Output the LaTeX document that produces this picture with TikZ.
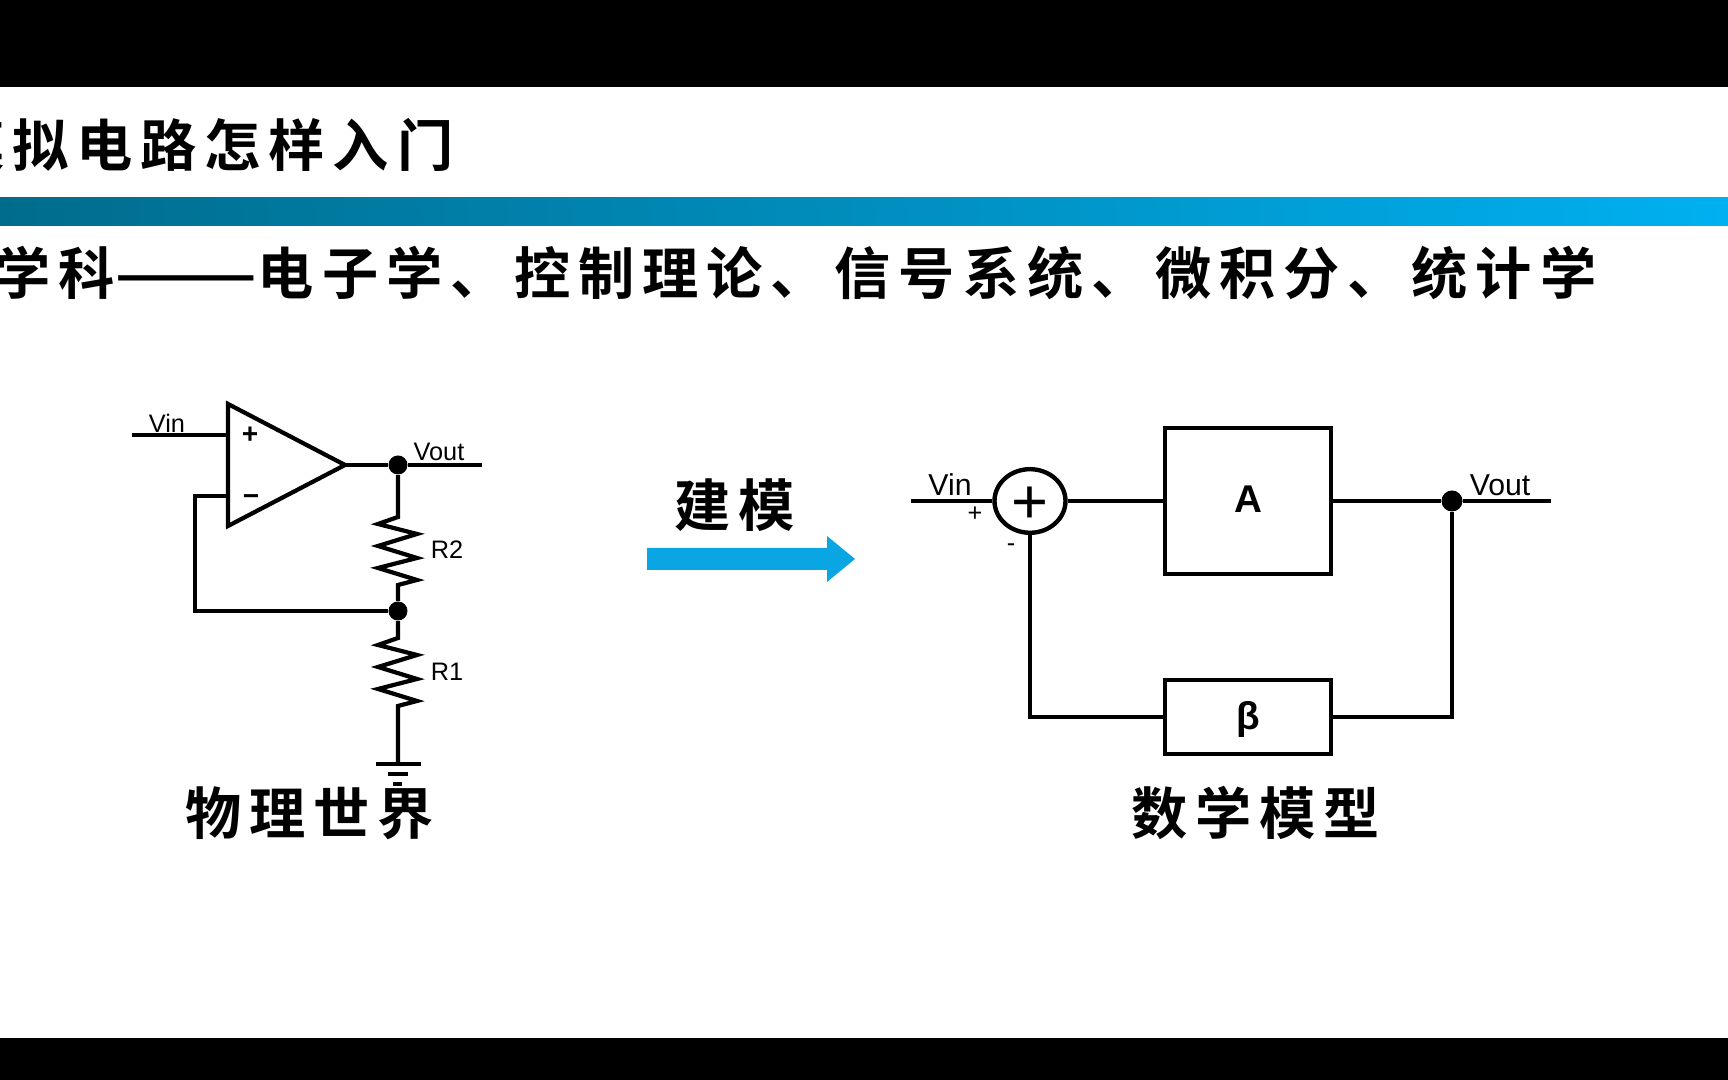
\documentclass[tikz,border=0pt]{standalone}
\usepackage{fontspec}
\usepackage{graphicx}
\setsansfont{Liberation Sans}
\newfontfamily\cjkfont[LetterSpace=14,BoldFont={Noto Sans CJK SC Bold}]{Noto Sans CJK SC}
\usepackage{tikz}
\usetikzlibrary{shapes, shapes.geometric, positioning, calc}
\definecolor{banddark}{RGB}{0,108,140}
\definecolor{bandlight}{RGB}{0,176,240}
\definecolor{arrowblue}{RGB}{10,166,228}
\tikzstyle{wire} = [line width=1.2pt, black]
\tikzstyle{modelwire} = [line width=1.25pt, black]
\tikzstyle{heading} = [font=\cjkfont\bfseries\fontsize{16pt}{16pt}\selectfont, inner sep=0pt]
\tikzstyle{smalltext} = [font=\sffamily\fontsize{7.2pt}{8pt}\selectfont, inner sep=0pt]
\tikzstyle{signtext} = [font=\sffamily\bfseries\fontsize{8pt}{8pt}\selectfont, inner sep=0pt]
\tikzstyle{modeltext} = [font=\sffamily\fontsize{8.6pt}{9pt}\selectfont, inner sep=0pt]
\tikzstyle{boxtext} = [font=\sffamily\bfseries\fontsize{11pt}{12pt}\selectfont, inner sep=0pt]
\tikzstyle{block} = [modelwire, draw, rectangle, inner sep=0pt, minimum width=1.66cm]
\tikzstyle{dot} = [circle, fill=black, inner sep=0pt, minimum size=0.19cm]
\newcommand{\zigzagpath}{-- ++(-.2,-.07) -- ++(.39,-.1) -- ++(-.39,-.12) -- ++(.39,-.12) -- ++(-.39,-.1) -- ++(.39,-.12) -- ++(-.19,-.05)}
\begin{document}
\begin{tikzpicture}
    \useasboundingbox (0, 0) rectangle (17.28, 10.8);
    \fill[white] (0, 0) rectangle (17.28, 10.8);
    % bars
    \fill[black] (0, 9.93) rectangle (17.28, 10.8);
    \fill[black] (0, 0) rectangle (17.28, 0.42);
    \shade[left color=banddark, right color=bandlight] (0, 8.54) rectangle (17.28, 8.82);
    % headings
    \node[heading, anchor=east] (title) at (4.54, 9.35) {模拟电路怎样入门};
    \node[heading, anchor=east] (subject) at (15.97, 8.07) {学科\scalebox{1.5}[1]{——}电子学、控制理论、信号系统、微积分、统计学};
    % op amp circuit
    \coordinate (oppos) at (2.28, 6.45);
    \coordinate (opneg) at (2.28, 5.84);
    \coordinate (optip) at (3.45, 6.15);
    \draw[wire, line join=miter] (2.28, 6.76) -- (2.28, 5.54) -- (optip) -- cycle;
    \coordinate (vinl) at (1.32, 6.45);
    \draw[wire] (vinl) -- (oppos);
    \node[smalltext] (vinlabel) at (1.67, 6.57) {Vin};
    \node[signtext] (plusl) at (2.5, 6.45) {+};
    \node[signtext] (minusl) at (2.51, 5.8) {−};
    \node[dot] (outdot) at (3.98, 6.15) {};
    \coordinate (voutl) at (4.82, 6.15);
    \draw[wire] (optip) -- (outdot) -- (voutl);
    \node[smalltext] (voutlabel) at (4.39, 6.28) {Vout};
    \node[dot] (middot) at (3.98, 4.69) {};
    \draw[wire] (outdot) -- (3.98, 5.63) \zigzagpath -- (middot);
    \node[smalltext] (rtwo) at (4.47, 5.3) {R2};
    \coordinate (gndtop) at (3.98, 3.16);
    \draw[wire] (middot) -- (3.98, 4.42) \zigzagpath -- (gndtop);
    \node[smalltext] (rone) at (4.47, 4.08) {R1};
    \draw[wire] (opneg) -- (1.95, 5.84) |- (middot);
    % ground
    \draw[wire] (3.76, 3.16) -- (4.21, 3.16);
    \draw[wire] (3.88, 3.06) -- (4.08, 3.06);
    \draw[wire] (3.93, 2.96) -- (4.02, 2.96);
    \node[heading] (physical) at (3.095, 2.67) {物理世界};
    % modelling arrow
    \node[heading] (modeling) at (7.35, 5.75) {建模};
    \fill[arrowblue] (6.47, 5.32) -- (8.27, 5.32) -- (8.27, 5.44) -- (8.55, 5.21) -- (8.27, 4.98) -- (8.27, 5.1) -- (6.47, 5.1) -- cycle;
    % block model
    \node[modelwire, draw, ellipse, inner sep=0pt, minimum width=.71cm, minimum height=.63cm, text height=12.8pt, text depth=0pt, font=\sffamily\fontsize{18pt}{18pt}\selectfont] (sum) at (10.3, 5.79) {+};
    \node[block, minimum height=1.46cm, boxtext, text depth=1.2pt] (gain) at (12.48, 5.79) {A};
    \node[block, minimum height=.74cm, boxtext, text height=9.5pt] (beta) at (12.48, 3.63) {β};
    \node[dot, minimum size=.21cm] (modeldot) at (14.52, 5.79) {};
    \coordinate (vinr) at (9.11, 5.79);
    \coordinate (voutr) at (15.51, 5.79);
    \draw[modelwire] (vinr) -- (sum);
    \draw[modelwire] (sum) -- (gain);
    \draw[modelwire] (gain) -- (modeldot) -- (voutr);
    \draw[modelwire] (sum) |- (beta);
    \draw[modelwire] (beta) -| (modeldot);
    \node[modeltext] (vinmodel) at (9.5, 5.95) {Vin};
    \node[modeltext] (voutmodel) at (15, 5.95) {Vout};
    \node[smalltext] (plusr) at (9.75, 5.66) {+};
    \node[smalltext] (minusr) at (10.11, 5.32) {-};
    \node[heading] (model) at (12.56, 2.67) {数学模型};
\end{tikzpicture}
\end{document}
